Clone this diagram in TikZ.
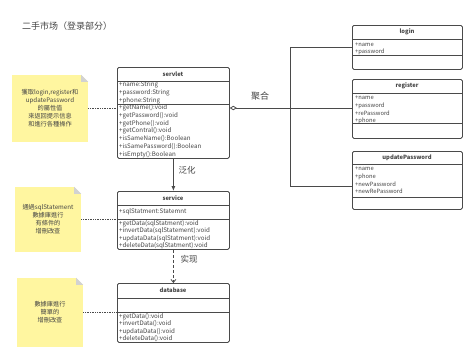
\documentclass[tikz,border=0pt]{standalone}
\usepackage{fontspec}
\setmainfont{Noto Sans CJK SC}
\newfontfamily\tcfont{Noto Sans CJK TC}
\usetikzlibrary{arrows.meta,positioning,calc}
\definecolor{linegray}{HTML}{4A4A4A}
\definecolor{txtgray}{HTML}{444444}
\definecolor{notefill}{HTML}{FFF6A0}
\definecolor{foldgray}{HTML}{D2D2D2}
\tikzset{
  klass/.style={draw=linegray,line width=0.8pt,rounded corners=1.5pt,anchor=north west,inner sep=0pt},
  sep/.style={draw=linegray,line width=0.8pt},
  hdr/.style={font=\bfseries\fontsize{5.8}{6}\selectfont,text=txtgray,inner sep=0pt},
  mem/.style={anchor=west,inner sep=0pt,font=\fontsize{6.2}{6.5}\selectfont,text=txtgray},
  rmem/.style={mem,font=\fontsize{5.8}{6}\selectfont},
  note/.style={fill=notefill,inner sep=0pt,align=center,font=\tcfont\fontsize{6.2}{8}\selectfont,text=txtgray},
  dotl/.style={draw=linegray,line width=0.7pt,dash pattern=on 0.8pt off 0.9pt},
  conn/.style={draw=linegray,line width=0.8pt},
  lbl/.style={font=\fontsize{8.5}{8.5}\selectfont,text=txtgray,inner sep=0pt},
}
\begin{document}
\begin{tikzpicture}[x=1pt,y=-1pt]
  \useasboundingbox[fill=white] (0,0) rectangle (474,359);
  \node[font=\fontsize{9}{9}\selectfont,text=txtgray,anchor=west,inner sep=0pt] (title) at (22,26) {二手市场（登录部分）};

  % notes
  \node[note,minimum width=76pt,minimum height=67pt] (note1) at (50,108.5)
    {獲取login,register和\\updatePassword\\的屬性值\\來返回提示信息\\和進行各種操作};
  \node[note,minimum width=66pt,minimum height=65pt] (note2) at (48,219.5)
    {通過sqlStatement\\數據庫進行\\有條件的\\增刪改查};
  \node[note,minimum width=66pt,minimum height=69pt] (note3) at (50,312.5)
    {數據庫進行\\簡單的\\增刪改查};
  \foreach \n in {note1,note2,note3} {
    \fill[white] ($(\n.north east)+(-7,0)$) -- (\n.north east) -- ++(0,7) -- cycle;
    \fill[foldgray] ($(\n.north east)+(-7,0)$) -- ++(0,7) -- ++(7,0) -- cycle;
  }

  % servlet
  \node[klass,minimum width=112pt,minimum height=91pt] (servlet) at (117,67) {};
  \node[hdr] (servlet-t) at (173,74) {servlet};
  \draw[sep] (servlet.west |- 0,81) -- (servlet.east |- 0,81);
  \draw[sep] (servlet.west |- 0,104) -- (servlet.east |- 0,104);
  \foreach \m [count=\i] in {+name:String,+password:String,+phone:String}
    \node[mem] (sv-a\i) at (119,{85+7.7*(\i-1)}) {\m};
  \foreach \m [count=\i] in {+getName():void,+getPassword():void,+getPhone():void,
      +getContral():void,+isSameName():Boolean,+isSamePassword():Boolean,+isEmpty():Boolean}
    \node[mem] (sv-m\i) at (119,{108+7.7*(\i-1)}) {\m};

  % service
  \node[klass,minimum width=112pt,minimum height=58pt] (service) at (117,191) {};
  \node[hdr] (service-t) at (173,198) {service};
  \draw[sep] (service.west |- 0,205) -- (service.east |- 0,205);
  \draw[sep] (service.west |- 0,219) -- (service.east |- 0,219);
  \node[mem] (se-a1) at (119,212) {+sqlStatment:Statemnt};
  \foreach \m [count=\i] in {+getData(sqlStatment):void,+invertData(sqlStatement):void,
      +updataData(sqlStatment):void,+deleteData(sqlStatment):void}
    \node[mem] (se-m\i) at (119,{223.5+7.5*(\i-1)}) {\m};

  % database
  \node[klass,minimum width=112pt,minimum height=59pt] (database) at (117,283) {};
  \node[hdr] (database-t) at (173,290.5) {database};
  \draw[sep] (database.west |- 0,298) -- (database.east |- 0,298);
  \draw[sep] (database.west |- 0,312) -- (database.east |- 0,312);
  \foreach \m [count=\i] in {+getData():void,+invertData():void,+updataData():void,+deleteData():void}
    \node[mem] (db-m\i) at (119,{316.5+7.5*(\i-1)}) {\m};

  % login
  \node[klass,minimum width=110pt,minimum height=44pt] (login) at (352,25) {};
  \node[hdr] (login-t) at (407,32) {login};
  \draw[sep] (login.west |- 0,39) -- (login.east |- 0,39);
  \draw[sep] (login.west |- 0,55) -- (login.east |- 0,55);
  \foreach \m [count=\i] in {+name,+password}
    \node[rmem] (lo-a\i) at (355,{44.5+7.3*(\i-1)}) {\m};

  % register
  \node[klass,minimum width=110pt,minimum height=59pt] (register) at (352,79) {};
  \node[hdr] (register-t) at (407,86) {register};
  \draw[sep] (register.west |- 0,93) -- (register.east |- 0,93);
  \draw[sep] (register.west |- 0,123) -- (register.east |- 0,123);
  \foreach \m [count=\i] in {+name,+password,+rePassword,+phone}
    \node[rmem] (re-a\i) at (355,{98+7.5*(\i-1)}) {\m};

  % updatePassword
  \node[klass,minimum width=110pt,minimum height=58pt] (updpw) at (352,151) {};
  \node[hdr] (updpw-t) at (407,157.5) {updatePassword};
  \draw[sep] (updpw.west |- 0,164) -- (updpw.east |- 0,164);
  \draw[sep] (updpw.west |- 0,197) -- (updpw.east |- 0,197);
  \foreach \m [count=\i] in {+name,+phone,+newPassword,+newRePassword}
    \node[rmem] (up-a\i) at (355,{169+7.5*(\i-1)}) {\m};

  % connectors
  \draw[dotl] (note1.east) -- (note1.east -| servlet.west);
  \draw[dotl] (note2.east) -- (note2.east -| service.west);
  \draw[dotl] (note3.east) -- (note3.east -| database.west);
  \draw[conn,-{Latex[length=5pt,width=4pt]}] (servlet.south) -- (service.north);
  \node[lbl] (lblgen) at (187,170) {泛化};
  \draw[conn,dash pattern=on 3pt off 2pt,-{Straight Barb[length=3pt,width=5pt]}] (service.south) -- (database.north);
  \node[lbl] (lblimp) at (189,259) {实现};
  \coordinate (aggL) at (servlet.east |- 0,108);
  \coordinate (busT) at (290,47);
  \coordinate (busB) at (290,186);
  \draw[conn,{Diamond[open,length=7pt,width=4.5pt,fill=white]}-] (aggL) -- (aggL -| register.west);
  \draw[conn] (busT -| login.west) -- (busT) -- (busB) -- (busB -| updpw.west);
  \node[lbl,font=\fontsize{9}{9}\selectfont] (lblagg) at (260,96) {聚合};
\end{tikzpicture}
\end{document}
